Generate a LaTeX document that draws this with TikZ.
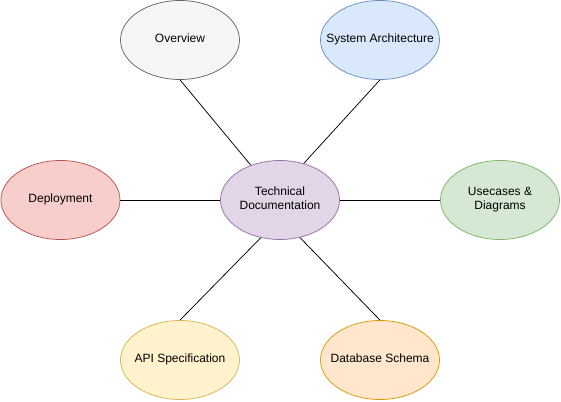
\documentclass[tikz,border=0pt]{standalone}
\usepackage{fontspec}
\setmainfont{Liberation Sans}
\usetikzlibrary{shapes.geometric}
\definecolor{GrayFill}{HTML}{F5F5F5}\definecolor{GrayLine}{HTML}{666666}
\definecolor{BlueFill}{HTML}{DAE8FC}\definecolor{BlueLine}{HTML}{6C8EBF}
\definecolor{PurpleFill}{HTML}{E1D5E7}\definecolor{PurpleLine}{HTML}{9673A6}
\definecolor{GreenFill}{HTML}{D5E8D4}\definecolor{GreenLine}{HTML}{82B366}
\definecolor{RedFill}{HTML}{F8CECC}\definecolor{RedLine}{HTML}{B85450}
\definecolor{YellowFill}{HTML}{FFF2CC}\definecolor{YellowLine}{HTML}{D6B656}
\definecolor{OrangeFill}{HTML}{FFE6CC}\definecolor{OrangeLine}{HTML}{D79B00}
\newcommand{\topictext}[1]{\makebox[0pt]{\begin{tabular}{@{}c@{}}#1\end{tabular}}}

\begin{document}
\begin{tikzpicture}[x=1pt,y=-1pt,font=\fontsize{12}{14}\selectfont,topic/.style={ellipse,draw,line width=0.75pt,minimum width=119pt,minimum height=79pt,inner sep=0pt},link/.style={line width=0.75pt,draw=black}]
 \useasboundingbox (0,0) rectangle (561,401);
 \node[topic,fill=GrayFill,draw=GrayLine] (overview) at (180,40) {\topictext{Overview}};
 \node[topic,fill=BlueFill,draw=BlueLine] (arch) at (380,40) {\topictext{System Architecture}};
 \node[topic,fill=RedFill,draw=RedLine] (deploy) at (60.5,200) {\topictext{Deployment}};
 \node[topic,fill=PurpleFill,draw=PurpleLine] (doc) at (280,200) {\topictext{Technical\\Documentation}};
 \node[topic,fill=GreenFill,draw=GreenLine] (usecase) at (500,200) {\topictext{Usecases \&\\Diagrams}};
 \node[topic,fill=YellowFill,draw=YellowLine] (api) at (180,360) {\topictext{API Specification}};
 \node[topic,fill=OrangeFill,draw=OrangeLine] (db) at (380,360) {\topictext{Database Schema}};
 \draw[link] (overview.south) -- (doc.130); \draw[link] (arch.south) -- (doc.57);
 \draw[link] (deploy.east) -- (doc.west); \draw[link] (usecase.west) -- (doc.east);
 \draw[link] (api.north) -- (doc.-117); \draw[link] (db.north) -- (doc.-62);
\end{tikzpicture}
\end{document}
